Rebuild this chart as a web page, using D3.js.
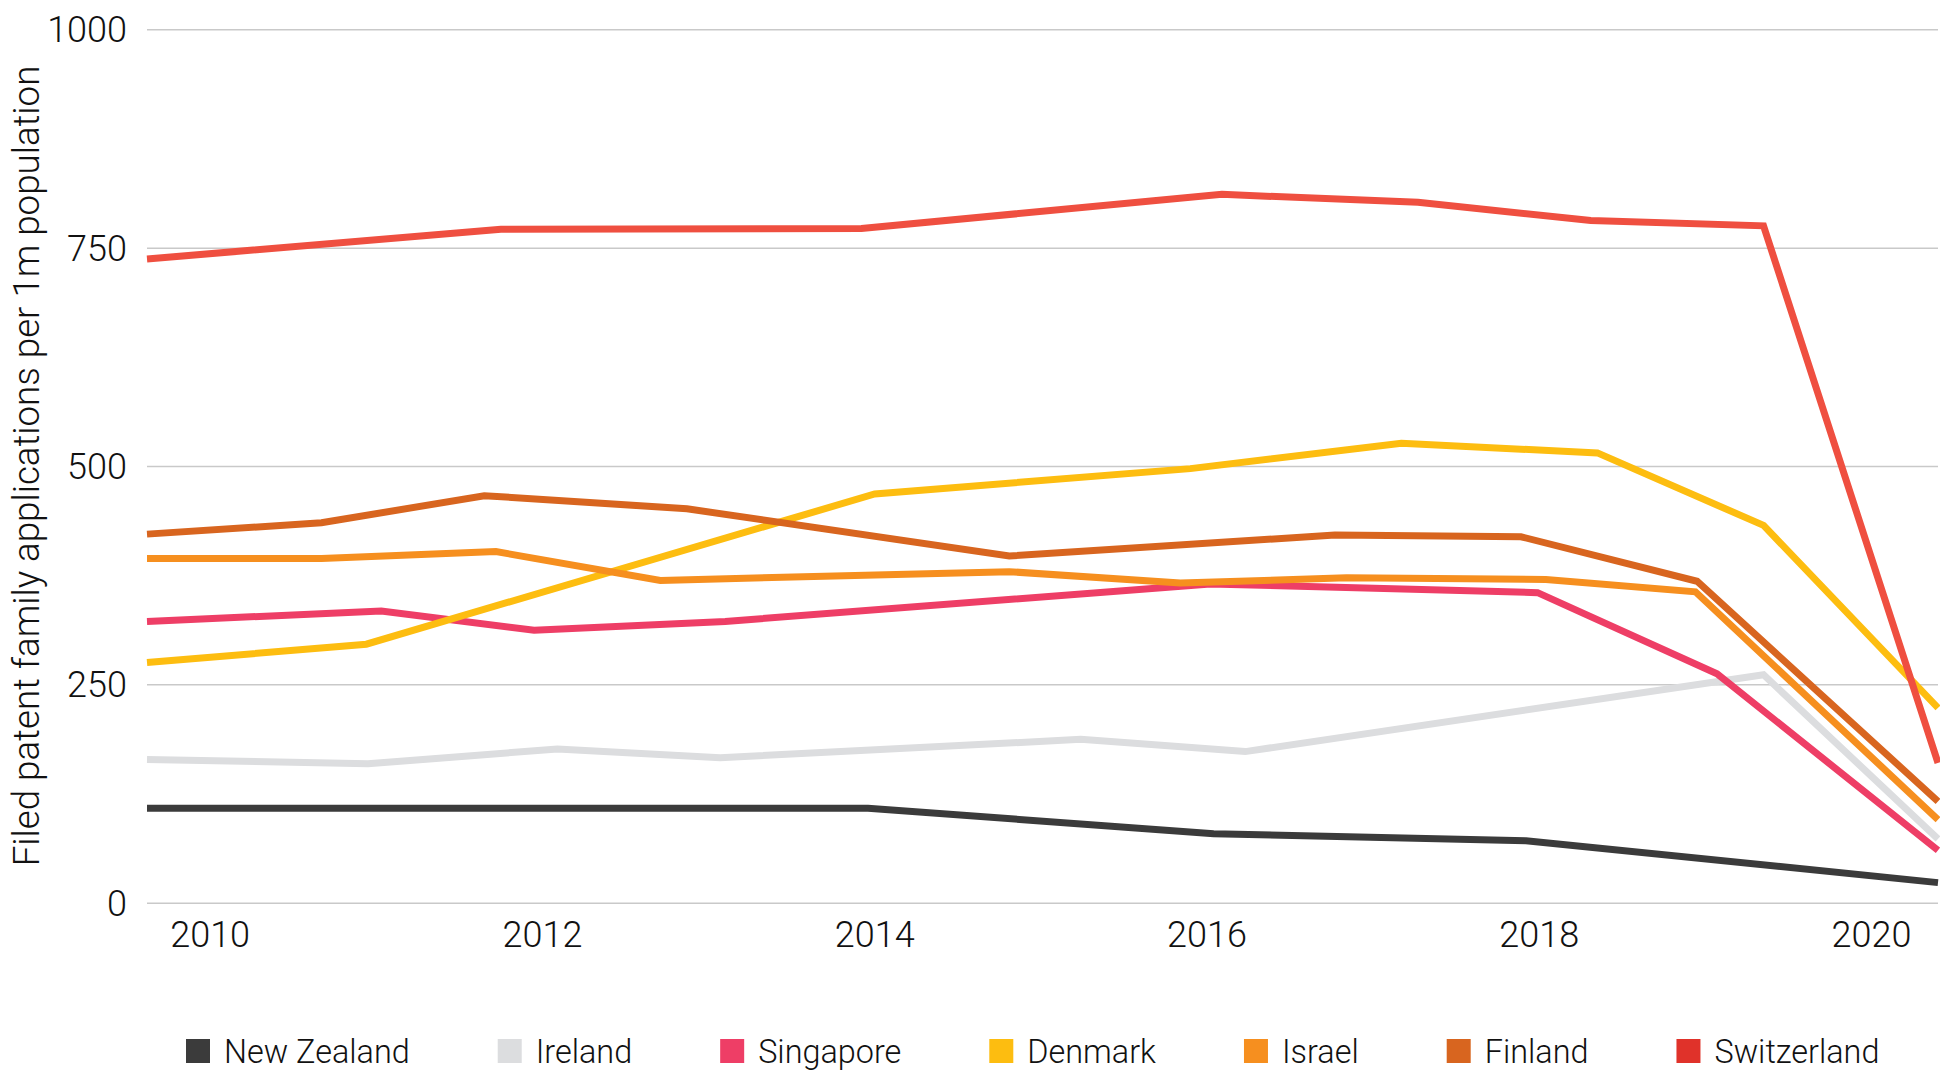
<!DOCTYPE html>
<html>
<head>
<meta charset="utf-8">
<script src="https://cdn.jsdelivr.net/npm/d3@7"></script>
<style>
    body { margin: 0; background: #fff; }
    text { font-family: Roboto, "Liberation Sans", sans-serif; font-weight: 300; fill: #111; }
    .grid line { stroke: #c9c9c9; stroke-width: 1.5; }
    .grid path { display: none; }
</style>
</head>
<body>
<svg id="chart" width="1940" height="1081"></svg>
<script>

// values: [year, applications per 1m population]
let countries = ["New Zealand", "Ireland", "Singapore", "Denmark", "Israel", "Finland", "Switzerland"];
let yTicks = [0, 250, 500, 750, 1000];
let xTicks = [2010, 2012, 2014, 2016, 2018, 2020];

let newZealand = [[2009.62, 108], [2013.96, 108], [2016.04, 79], [2017.92, 71], [2020.40, 23]];
let ireland = [[2009.62, 164], [2010.95, 159], [2012.09, 176], [2013.07, 166], [2015.24, 187], [2016.23, 173], [2019.35, 261], [2020.40, 73]];
let singapore = [[2009.62, 322], [2011.03, 334], [2011.95, 312], [2013.10, 322], [2016.02, 365], [2017.99, 355], [2019.07, 262], [2020.40, 60]];
let denmark = [[2009.62, 275], [2010.94, 296], [2014.00, 468], [2015.90, 497], [2017.17, 526], [2018.35, 515], [2019.35, 432], [2020.40, 223]];
let israel = [[2009.62, 394], [2010.67, 394], [2011.72, 402], [2012.71, 369], [2014.81, 379], [2015.84, 366], [2016.84, 372], [2018.04, 370], [2018.94, 356], [2020.40, 95]];
let finland = [[2009.62, 422], [2010.67, 435], [2011.65, 466], [2012.87, 451], [2014.81, 397], [2016.77, 421], [2017.89, 419], [2018.95, 368], [2020.40, 116]];
let switzerland = [[2009.62, 737], [2011.75, 771], [2013.92, 772], [2016.09, 811], [2017.27, 802], [2018.31, 781], [2019.35, 775], [2020.40, 160]];

let series = [newZealand, ireland, singapore, denmark, israel, finland, switzerland];

let lineColors = ["#3b3b3b", "#dcdddf", "#ee3e66", "#fdbd10", "#f68f1f", "#d8651f", "#ef4f40"];
let swatchColors = ["#3b3b3b", "#dcdddf", "#ee3e66", "#fdbd10", "#f68f1f", "#d8651f", "#e0322a"];

class LineChart {

    constructor(countries, series) {
        this.countries = countries;
        this.series = series;
    }

    drawChart() {
        let svg = d3.select("#chart");
        let left = 147, right = 1938, top = 29.3, bottom = 902.7;

        let xScale = d3.scaleLinear()
            .domain([2009.62, 2020.40])
            .range([left, right]);
        let yScale = d3.scaleLinear()
            .domain([0, 1000])
            .range([bottom, top]);

        // horizontal grid lines, no axis line
        let yAxis = d3.axisLeft(yScale)
            .tickValues(yTicks)
            .tickSize(-(right - left))
            .tickFormat("");
        svg.append("g")
            .attr("class", "grid")
            .attr("transform", "translate(" + left + ",0)")
            .call(yAxis);

        svg.append("g").selectAll("text")
            .data(yTicks)
            .enter()
            .append("text")
            .attr("x", 127)
            .attr("y", function (d) { return yScale(d); })
            .attr("dy", "0.36em")
            .attr("text-anchor", "end")
            .style("font-size", "36px")
            .text(function (d) { return d; });

        svg.append("g").selectAll("text")
            .data(xTicks)
            .enter()
            .append("text")
            .attr("x", function (d) { return xScale(d); })
            .attr("y", 947)
            .attr("text-anchor", "middle")
            .style("font-size", "36px")
            .text(function (d) { return d; });

        svg.append("text")
            .attr("transform", "translate(39," + ((top + bottom) / 2) + ") rotate(-90)")
            .attr("text-anchor", "middle")
            .style("font-size", "36.7px")
            .text("Filed patent family applications per 1m population");

        let line = d3.line()
            .x(function (d) { return xScale(d[0]); })
            .y(function (d) { return yScale(d[1]); });

        svg.append("g").selectAll("path")
            .data(this.series)
            .enter()
            .append("path")
            .attr("d", line)
            .attr("fill", "none")
            .attr("stroke", function (d, i) { return lineColors[i]; })
            .attr("stroke-width", 7);

        // legend, laid out left to right
        let legend = svg.append("g");
        let x = 186;
        this.countries.forEach(function (name, i) {
            legend.append("rect")
                .attr("x", x)
                .attr("y", 1039)
                .attr("width", 24)
                .attr("height", 24)
                .attr("fill", swatchColors[i]);
            let label = legend.append("text")
                .attr("x", x + 38)
                .attr("y", 1063)
                .style("font-size", "32.4px")
                .text(name);
            x = x + 38 + label.node().getComputedTextLength() + 88;
        });
    }
}

let chart = new LineChart(countries, series);
chart.drawChart();

</script>
</body>
</html>
